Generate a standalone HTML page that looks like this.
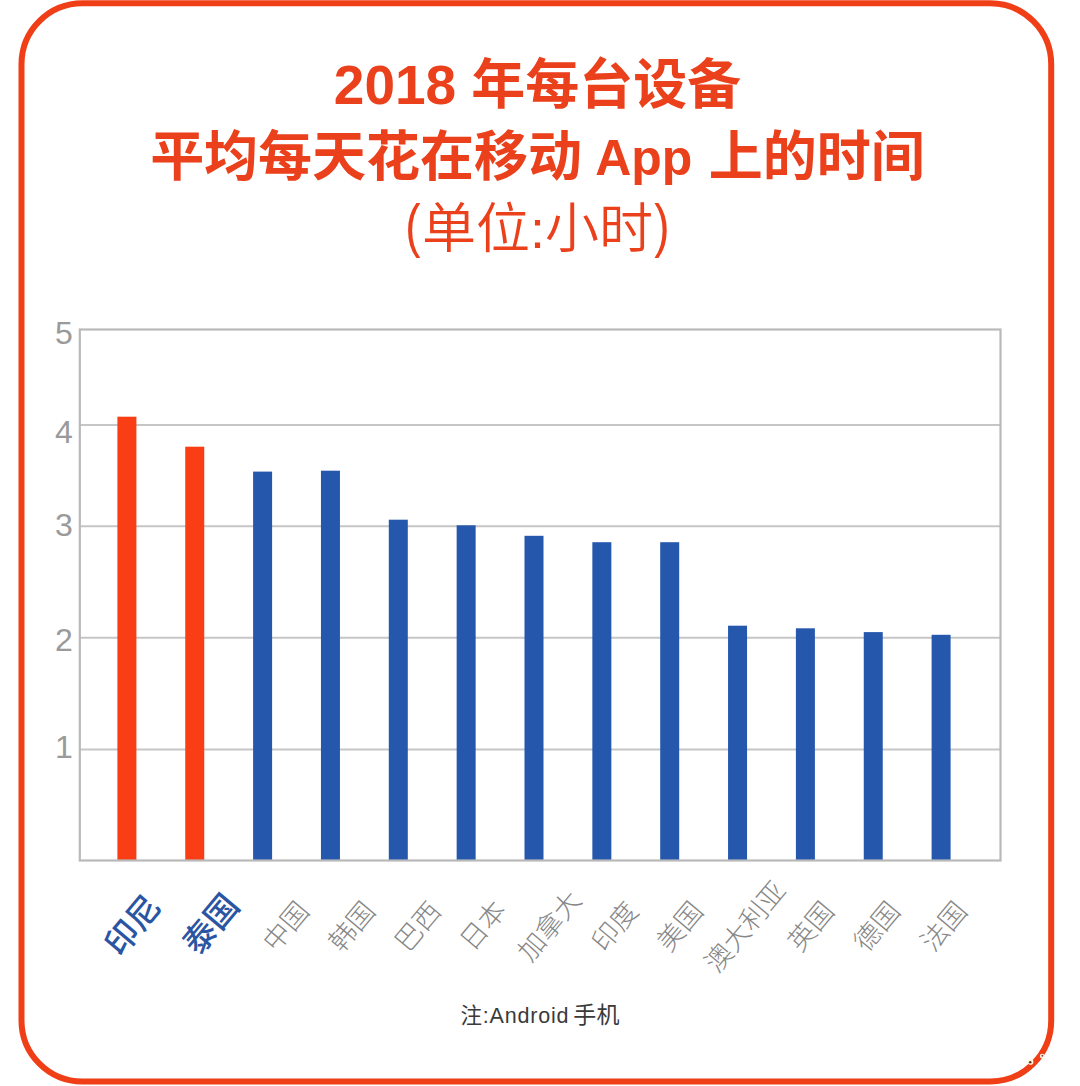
<!DOCTYPE html>
<html lang="zh-CN">
<head>
<meta charset="utf-8">
<title>2018 年每台设备平均每天花在移动 App 上的时间</title>
<style>
html,body{margin:0;padding:0;background:#fff;}
body{width:1080px;height:1086px;position:relative;overflow:hidden;}
.abs{position:absolute;white-space:nowrap;}
.t{font-family:"Liberation Sans","Noto Sans CJK SC",sans-serif;color:#eb401c;}
.t1{font-weight:700;font-size:54px;line-height:1;}
.t2{font-weight:350;font-size:54px;line-height:1;}
.pr{display:inline-block;transform:translateY(-3px) scale(0.85,1.1);transform-origin:50% 62%;}
.yl{font-family:"Liberation Sans","Noto Sans CJK SC",sans-serif;font-size:32px;line-height:1;color:#9a9a9a;font-weight:400;}
.xl{font-family:"Liberation Sans","Noto Sans CJK SC",sans-serif;font-size:27px;line-height:1;color:#868686;font-weight:300;transform-origin:0 0;transform:rotate(-50deg);}
.xl.b{color:#2a55a3;font-weight:500;font-size:33px;}
.note{font-family:"Liberation Sans","Noto Sans CJK SC",sans-serif;font-size:21.5px;line-height:1;color:#3a3a3a;letter-spacing:0.8px;}
</style>
</head>
<body>
<svg class="abs" style="left:0;top:0" width="1080" height="1086" viewBox="0 0 1080 1086">
  <rect x="21.5" y="3.3" width="1029.7" height="1078.2" rx="61" ry="61" fill="none" stroke="#f03e16" stroke-width="6"/>
  <g fill="none" stroke="#c6c6c6" stroke-width="2">
    <line x1="80" y1="425" x2="1000.5" y2="425"/>
    <line x1="80" y1="526.2" x2="1000.5" y2="526.2"/>
    <line x1="80" y1="637.7" x2="1000.5" y2="637.7"/>
    <line x1="80" y1="749.5" x2="1000.5" y2="749.5"/>
  </g>
  <g fill="#f93d14">
    <rect x="117.4" y="416.7" width="19" height="443.3"/>
    <rect x="185.25" y="446.7" width="19" height="413.3"/>
  </g>
  <g fill="#2558ad">
    <rect x="253.1" y="471.6" width="19" height="388.4"/>
    <rect x="320.95" y="470.7" width="19" height="389.3"/>
    <rect x="388.8" y="519.7" width="19" height="340.3"/>
    <rect x="456.65" y="525.3" width="19" height="334.7"/>
    <rect x="524.5" y="535.8" width="19" height="324.2"/>
    <rect x="592.35" y="542.2" width="19" height="317.8"/>
    <rect x="660.2" y="542.2" width="19" height="317.8"/>
    <rect x="728.05" y="625.7" width="19" height="234.3"/>
    <rect x="795.9" y="628.3" width="19" height="231.7"/>
    <rect x="863.75" y="632.1" width="19" height="227.9"/>
    <rect x="931.6" y="634.8" width="19" height="225.2"/>
  </g>
  <g>
    <circle cx="1030.6" cy="1061.9" r="2.8" fill="#fff6dc"/>
    <circle cx="1030.2" cy="1062.2" r="1.3" fill="#6b3a28"/>
    <circle cx="1042.2" cy="1056.1" r="2.4" fill="#fff6e8"/>
    <circle cx="1042.4" cy="1055.8" r="1.0" fill="#7a4a3a"/>
  </g>
  <rect x="79.8" y="329.5" width="920.7" height="531" fill="none" stroke="#b9b9b9" stroke-width="2.2"/>
</svg>

<div class="abs t t1" style="left:0;width:1075px;text-align:center;top:58px;"><span style="font-size:55px">2018</span> 年每台设备</div>
<div class="abs t t1" style="left:0;width:1075px;text-align:center;top:130px;">平均每天花在移动 <span style="font-size:50px;margin:0 1.5px 0 -2px;position:relative;top:-1px">App</span> 上的时间</div>
<div class="abs t t2" style="left:0;width:1075px;text-align:center;top:202px;"><span class="pr">(</span>单位:小时<span class="pr">)</span></div>

<div class="abs yl" style="left:55px;top:317px;">5</div>
<div class="abs yl" style="left:55px;top:416px;">4</div>
<div class="abs yl" style="left:55px;top:509px;">3</div>
<div class="abs yl" style="left:55px;top:624px;">2</div>
<div class="abs yl" style="left:55px;top:731px;">1</div>

<div class="abs xl b" style="left:98.9px;top:939.6px;">印尼</div>
<div class="abs xl b" style="left:177.4px;top:939.2px;">泰国</div>
<div class="abs xl" style="left:259.3px;top:939.4px;">中国</div>
<div class="abs xl" style="left:325.0px;top:939.0px;">韩国</div>
<div class="abs xl" style="left:390.5px;top:938.8px;">巴西</div>
<div class="abs xl" style="left:455.8px;top:937.5px;">日本</div>
<div class="abs xl" style="left:513.6px;top:949.0px;">加拿大</div>
<div class="abs xl" style="left:587.5px;top:938.8px;">印度</div>
<div class="abs xl" style="left:653.4px;top:939.2px;">美国</div>
<div class="abs xl" style="left:701.0px;top:960.0px;">澳大利亚</div>
<div class="abs xl" style="left:784.3px;top:939.2px;">英国</div>
<div class="abs xl" style="left:850.1px;top:938.8px;">德国</div>
<div class="abs xl" style="left:916.8px;top:939.0px;">法国</div>

<div class="abs note" style="left:460.5px;top:1003.5px;">注:Android<span style="letter-spacing:0"> </span><span style="font-size:23px;letter-spacing:0.3px;position:relative;top:0.5px;margin-left:-2px">手机</span></div>
</body>
</html>
